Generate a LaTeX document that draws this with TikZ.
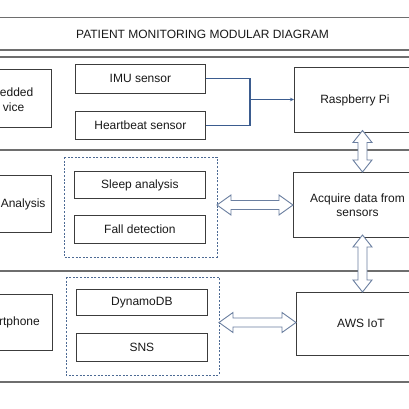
\documentclass[tikz,border=0pt]{standalone}
\usepackage{fontspec}
\setmainfont{Liberation Sans}
\usetikzlibrary{arrows.meta}
\definecolor{framegray}{HTML}{6E6E6E}
\definecolor{boxgray}{HTML}{3C3C3C}
\definecolor{linkblue}{HTML}{3B5C8F}
\definecolor{blkblue}{HTML}{6B7FA0}
\definecolor{grpblue}{HTML}{4D6A94}
\newcommand\hblk[3]{\draw[blk] (#1,#3) -- (#1+14,#3-10) -- (#1+14,#3-4.5) -- (#2-14,#3-4.5) -- (#2-14,#3-10) -- (#2,#3) -- (#2-14,#3+10) -- (#2-14,#3+4.5) -- (#1+14,#3+4.5) -- (#1+14,#3+10) -- cycle;}
\newcommand\vblk[3]{\draw[blk] (#1,#2) -- (#1+9.5,#2+12) -- (#1+4.5,#2+12) -- (#1+4.5,#3-12) -- (#1+9.5,#3-12) -- (#1,#3) -- (#1-9.5,#3-12) -- (#1-4.5,#3-12) -- (#1-4.5,#2+12) -- (#1-9.5,#2+12) -- cycle;}
\begin{document}
\begin{tikzpicture}[x=1pt,y=-1pt,
  frame/.style={draw=framegray, line width=1.2pt},
  box/.style={draw=boxgray, line width=0.8pt, inner sep=0pt},
  lbl/.style={font=\fontsize{12}{14}\selectfont, inner sep=0pt, text=black!90},
  grp/.style={draw=grpblue, dash pattern=on 2pt off 1.6pt, line width=0.6pt},
  link/.style={draw=linkblue, line width=1.1pt},
  blk/.style={draw=blkblue, fill=white, line width=0.9pt, line join=miter}]
\clip (0,0) rectangle (409,409);
\fill[white] (0,0) rectangle (409,409);
% frame lines
\draw[frame, line width=1pt] (-5,18) -- (415,18);
\draw[frame] (-5,50) -- (415,50);
\draw[frame] (-5,57) -- (415,57);
\draw[frame] (-5,150) -- (415,150);
\draw[frame] (-5,271) -- (415,271);
\draw[frame, line width=1.5pt] (-5,382) -- (415,382);
\node[lbl] (title) at (202.5,34) {PATIENT MONITORING MODULAR DIAGRAM};
% row 1
\node[box, anchor=north east, minimum width=70pt, minimum height=58pt] (emb) at (52,69) {};
\node[lbl, anchor=east] (emb1) at (33.5,92) {edded};
\node[lbl, anchor=east] (emb2) at (24.5,107.5) {vice};
\node[box, lbl, anchor=north west, minimum width=130pt, minimum height=29pt] (imu) at (75,64) {IMU sensor};
\node[box, lbl, anchor=north west, minimum width=130pt, minimum height=28pt] (hb) at (75,111) {Heartbeat sensor};
\node[box, anchor=north west, minimum width=130pt, minimum height=65pt] (rpi) at (294,67) {};
\node[lbl] (rpil) at (355,100.5) {Raspberry Pi};
\coordinate (junc) at (250,99.5);
\draw[link] (imu.east) -| (junc);
\draw[link] (hb.east) -| (junc);
\draw[link, -{Stealth[length=4pt,width=3.5pt]}] (junc) -- (rpi.west |- junc);
% row 2
\node[box, anchor=north east, minimum width=70pt, minimum height=57pt] (ana) at (51.5,175) {};
\node[lbl, anchor=west] (anal) at (0.6,204) {Analysis};
\draw[grp] (64,157) rectangle (217,257);
\node[box, lbl, anchor=north west, minimum width=131pt, minimum height=27pt] (sleep) at (74,171) {Sleep analysis};
\node[box, lbl, anchor=north west, minimum width=131pt, minimum height=28pt] (fall) at (74,215) {Fall detection};
\node[box, anchor=north west, minimum width=130pt, minimum height=65pt] (acq) at (293,172) {};
\node[lbl, align=center] (acql) at (357.5,205) {Acquire data from\\sensors};
% row 3
\node[box, anchor=north east, minimum width=70pt, minimum height=56pt] (sp) at (52.5,294) {};
\node[lbl, anchor=east] (spl) at (40,322) {rtphone};
\draw[grp] (66,277) rectangle (219,375);
\node[box, lbl, anchor=north west, minimum width=131pt, minimum height=26pt] (ddb) at (76,289) {DynamoDB};
\node[box, lbl, anchor=north west, minimum width=131pt, minimum height=28pt] (sns) at (76,333) {SNS};
\node[box, anchor=north west, minimum width=130pt, minimum height=63pt] (aws) at (296,292) {};
\node[lbl] (awsl) at (361,323) {AWS IoT};
% block arrows
\hblk{217}{293}{205}
\hblk{219}{296}{322.5}
\vblk{362.5}{130.5}{172}
\vblk{362.5}{235}{292}
\end{tikzpicture}
\end{document}
